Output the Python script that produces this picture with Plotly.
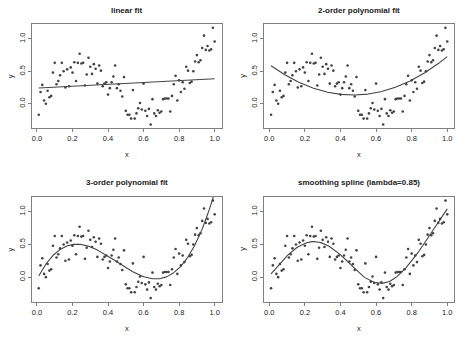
import numpy as np
import plotly.graph_objects as go

x_vals = [round(0.01 * i, 2) for i in range(1, 101)]
y_vals = [
    -0.17, 0.18, 0.29, 0.05, 0.00, 0.20, 0.10, 0.12, 0.48, 0.63,
    0.30, 0.35, 0.44, 0.63, 0.50, 0.25, 0.53, 0.27, 0.56, 0.48,
    0.64, 0.35, 0.63, 0.77, 0.62, 0.63, 0.28, 0.45, 0.71, 0.57,
    0.46, 0.61, 0.54, 0.31, 0.59, 0.51, 0.27, 0.31, 0.33, 0.14,
    0.24, 0.33, 0.42, 0.59, 0.24, 0.30, 0.20, 0.11, 0.41, -0.11,
    -0.17, -0.17, -0.23, 0.21, -0.23, -0.15, -0.07, 0.01, -0.09, 0.31,
    -0.11, -0.19, -0.08, -0.32, 0.07, -0.15, -0.19, -0.10, -0.14, -0.12,
    0.07, 0.08, 0.08, 0.08, -0.12, 0.12, 0.30, 0.43, 0.05, 0.36,
    0.18, 0.33, 0.23, 0.57, 0.51, 0.32, 0.34, 0.50, 0.65, 0.75,
    0.64, 0.67, 0.86, 1.05, 0.83, 0.89, 0.82, 0.84, 1.17, 0.96,
]
titles = ["linear fit", "2-order polynomial fit", "3-order polynomial fit",
          "smoothing spline (lambda=0.85)"]
tick_vals_x = [0.0, 0.2, 0.4, 0.6, 0.8, 1.0]
tick_vals_y = [0.0, 0.5, 1.0]
smooth_lambda = 1300.0

x = np.array(x_vals)
y = np.array(y_vals)
xg = np.linspace(x.min(), x.max(), 300)

fits = []
for deg in (1, 2, 3):
    c = np.polyfit(x, y, deg)
    fits.append((xg, np.polyval(c, xg)))

# Whittaker smoother (discrete cubic smoothing spline analogue)
n = len(y)
D = np.diff(np.eye(n), 2, axis=0)
ys = np.linalg.solve(np.eye(n) + smooth_lambda * D.T @ D, y)
fits.append((x, ys))

W, H = 474, 337
boxes = [  # left, right, top, bottom in px
    (31.7, 221.7, 24.0, 128.3),
    (264.0, 454.3, 24.0, 128.3),
    (31.7, 221.7, 196.7, 302.0),
    (264.0, 454.3, 196.7, 302.0),
]

fig = go.Figure()
FONT = "Liberation Sans, Arial, Helvetica, sans-serif"
axcol = "#808080"
txtcol = "#222222"
annotations = []
for i, (l, r, t, b) in enumerate(boxes):
    k = "" if i == 0 else str(i + 1)
    fig.add_trace(go.Scatter(x=x, y=y, mode="markers",
                             marker=dict(size=2.6, color="#444444"),
                             xaxis="x" + k, yaxis="y" + k, showlegend=False))
    fx, fy = fits[i]
    fig.add_trace(go.Scatter(x=fx, y=fy, mode="lines",
                             line=dict(color="#444444", width=1.1),
                             xaxis="x" + k, yaxis="y" + k, showlegend=False))
    common = dict(showgrid=False, zeroline=False, showline=True, mirror=True,
                  linecolor=axcol, linewidth=1, ticks="outside", ticklen=3,
                  tickcolor=axcol, tickwidth=1,
                  tickfont=dict(family=FONT, size=7.5, color=txtcol))
    fig.update_layout(**{
        "xaxis" + k: dict(domain=[l / W, r / W], range=[-0.0296, 1.0396],
                          tickvals=tick_vals_x,
                          ticktext=[f"{v:.1f}" for v in tick_vals_x],
                          anchor="y" + k, **common),
        "yaxis" + k: dict(domain=[1 - b / H, 1 - t / H], range=[-0.3796, 1.2296],
                          tickvals=tick_vals_y,
                          ticktext=[f"{v:.1f}" for v in tick_vals_y],
                          tickangle=-90, anchor="x" + k, **common),
    })
    cx = (l + r) / 2
    ty = 10 if i < 2 else 182
    annotations.append(dict(text="<b>" + titles[i] + "</b>", x=cx / W, y=1 - ty / H,
                            xref="paper", yref="paper", showarrow=False,
                            xanchor="center", yanchor="middle",
                            font=dict(family=FONT, size=8, color=txtcol)))
    annotations.append(dict(text="x", x=cx / W, y=1 - (b + 26.5) / H,
                            xref="paper", yref="paper", showarrow=False,
                            xanchor="center", yanchor="middle",
                            font=dict(family=FONT, size=7.5, color=txtcol)))
    annotations.append(dict(text="y", x=(l - 21.5) / W, y=1 - ((t + b) / 2) / H,
                            xref="paper", yref="paper", showarrow=False,
                            xanchor="center", yanchor="middle", textangle=-90,
                            font=dict(family=FONT, size=7.5, color=txtcol)))

fig.update_layout(width=W, height=H, margin=dict(l=0, r=0, t=0, b=0),
                  paper_bgcolor="white", plot_bgcolor="white",
                  annotations=annotations)
fig.write_html("out.html")
